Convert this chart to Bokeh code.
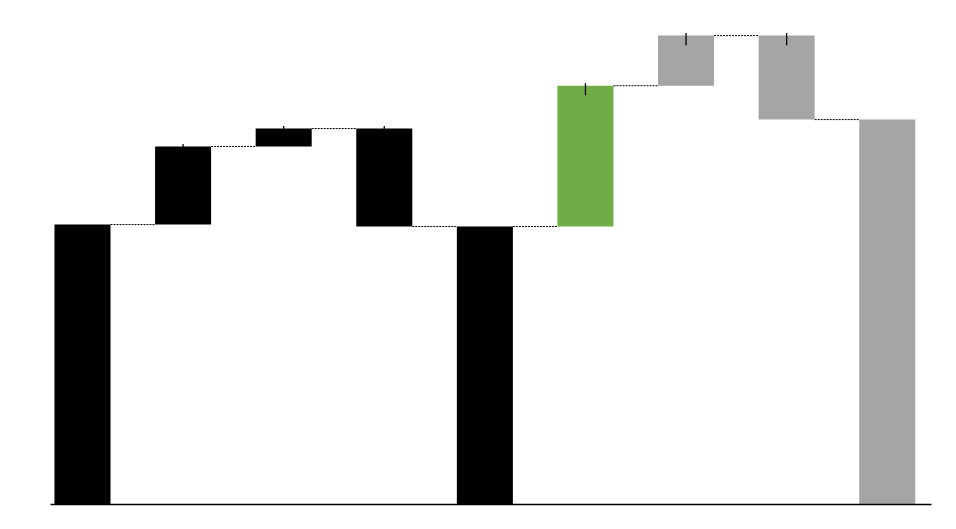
import numpy as np
from bokeh.plotting import figure
from bokeh.models import Range1d, ColumnDataSource
from bokeh.embed import file_html
from bokeh.resources import INLINE

# ---- data ----
positions = [0, 1, 2, 3, 4, 5, 6, 7, 8]
step_values = [100.0, 27.9, 6.4, -35.0, 0.0, 50.3, 17.9, -30.0, 0.0]
is_total = [True, False, False, False, True, False, False, False, True]
bar_colors = ["#000000", "#000000", "#000000", "#000000", "#000000",
              "#70AD47", "#A5A5A5", "#A5A5A5", "#A5A5A5"]

BAR_W = 0.557

# running totals
bottoms, tops, levels = [], [], []
run = 0.0
for v, t in zip(step_values, is_total):
    if t and run != 0.0:
        b, e = 0.0, run
    else:
        b, e = run, run + v
        run = e
    bottoms.append(min(b, e))
    tops.append(max(b, e))
    levels.append(run)

src = ColumnDataSource(dict(x=positions, bottom=bottoms, top=tops, color=bar_colors))

p = figure(width=940, height=513, output_backend="svg", toolbar_location=None,
           x_range=Range1d(-0.318, 8.44), y_range=Range1d(0, 172.9),
           min_border_left=50, min_border_right=9, min_border_top=20, min_border_bottom=9)

p.vbar(x="x", bottom="bottom", top="top", width=BAR_W, color="color", line_color=None, source=src)

# dashed connectors
cx0 = [positions[i] + BAR_W / 2 for i in range(len(positions) - 1)]
cx1 = [positions[i + 1] - BAR_W / 2 for i in range(len(positions) - 1)]
cy = [levels[i] for i in range(len(positions) - 1)]
p.segment(x0=cx0, y0=cy, x1=cx1, y1=cy, line_color="black", line_width=1, line_dash="2 1")

# small tick marks on change bars
tx = [positions[i] for i in range(len(positions)) if not is_total[i]]
tt = [tops[i] for i in range(len(positions)) if not is_total[i]]
p.segment(x0=tx, y0=[t + 0.9 for t in tt], x1=tx, y1=[t - 3.4 for t in tt],
          line_color="black", line_width=1.3)

p.yaxis.visible = False
p.xaxis.ticker = []
p.xaxis.major_tick_line_color = None
p.xaxis.minor_tick_line_color = None
p.xaxis.major_label_text_color = None
p.xaxis.axis_line_color = "black"
p.xaxis.axis_line_width = 1.5
p.xgrid.visible = False
p.ygrid.visible = False
p.outline_line_color = None

open("out.html", "w").write(file_html(p, INLINE))
